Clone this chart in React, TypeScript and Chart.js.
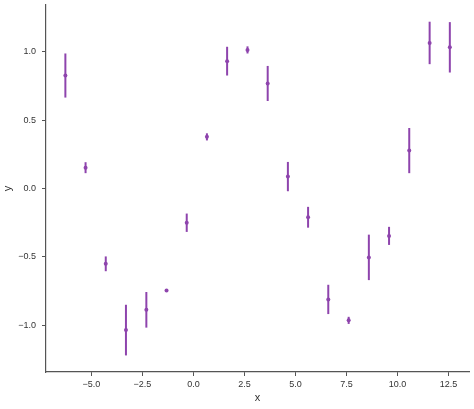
import React, { useEffect, useRef } from "react";
import { Chart, registerables } from "chart.js";

Chart.register(...registerables);

// data
const xValues = [-6.28, -5.29, -4.3, -3.31, -2.31, -1.32, -0.33, 0.66, 1.65, 2.65, 3.64, 4.63, 5.62, 6.61, 7.61, 8.6, 9.59, 10.58, 11.58, 12.57];
const yValues = [0.825, 0.152, -0.55, -1.034, -0.886, -0.744, -0.25, 0.377, 0.93, 1.012, 0.767, 0.087, -0.21, -0.81, -0.963, -0.503, -0.346, 0.277, 1.063, 1.031];
const yErrors = [0.161, 0.04, 0.054, 0.185, 0.13, 0.01, 0.067, 0.026, 0.105, 0.026, 0.128, 0.107, 0.076, 0.107, 0.026, 0.166, 0.066, 0.165, 0.155, 0.184];
const xTicks = [-5, -2.5, 0, 2.5, 5, 7.5, 10, 12.5];
const yTicks = [-1, -0.5, 0, 0.5, 1];

const purple = "#8e44ad";
const ink = "#333333";
const fontFamily = "'Liberation Sans', Arial, sans-serif";

const fmt = (v: number) => (v < 0 ? "\u2212" : "") + Math.abs(v).toFixed(1);

const errorBars = {
    id: "errorBars",
    beforeDatasetsDraw(chart: any) {
        const { ctx, scales } = chart;
        ctx.save();
        ctx.strokeStyle = purple;
        ctx.lineWidth = 2;
        xValues.forEach((x, i) => {
            const px = scales.x.getPixelForValue(x);
            const top = scales.y.getPixelForValue(yValues[i] + yErrors[i]);
            const bottom = scales.y.getPixelForValue(yValues[i] - yErrors[i]);
            ctx.beginPath();
            ctx.moveTo(px, top);
            ctx.lineTo(px, bottom);
            ctx.stroke();
        });
        ctx.restore();
    },
};

const App = () => {
    const canvasRef = useRef<HTMLCanvasElement | null>(null);

    useEffect(() => {
        const ctx = canvasRef.current?.getContext("2d");
        if (!ctx) return;

        const chart = new Chart(ctx, {
            type: "scatter",
            data: {
                datasets: [
                    {
                        data: xValues.map((x, i) => ({ x, y: yValues[i] })),
                        backgroundColor: purple,
                        borderColor: purple,
                        pointRadius: 2,
                        borderWidth: 0,
                    },
                ],
            },
            options: {
                animation: false,
                responsive: true,
                maintainAspectRatio: false,
                layout: { padding: { top: 5, right: 5, left: 0, bottom: 0 } },
                plugins: { legend: { display: false }, tooltip: { enabled: false } },
                scales: {
                    x: {
                        type: "linear",
                        min: -7.23,
                        max: 13.51,
                        afterFit: (s: any) => {
                            s.height = 37;
                            s.paddingLeft = 0;
                            s.paddingRight = 0;
                        },
                        afterBuildTicks: (s: any) => { s.ticks = xTicks.map((value) => ({ value })); },
                        grid: { drawOnChartArea: false, tickLength: 4, tickColor: "#555", tickWidth: 1 },
                        border: { color: "#555", width: 1.2 },
                        ticks: {
                            color: ink,
                            padding: 3,
                            maxRotation: 0,
                            font: { family: fontFamily, size: 9 },
                            callback: (v: any) => fmt(Number(v)),
                        },
                        title: {
                            display: true,
                            text: "x",
                            color: ink,
                            font: { family: fontFamily, size: 11 },
                            padding: { top: 0, bottom: 4.5 },
                        },
                    },
                    y: {
                        type: "linear",
                        min: -1.34,
                        max: 1.34,
                        afterFit: (s: any) => {
                            s.width = 46;
                            s.paddingTop = 0;
                            s.paddingBottom = 0;
                        },
                        afterBuildTicks: (s: any) => { s.ticks = yTicks.map((value) => ({ value })); },
                        grid: { drawOnChartArea: false, tickLength: 4, tickColor: "#555", tickWidth: 1 },
                        border: { color: "#555", width: 1.2 },
                        ticks: {
                            color: ink,
                            padding: 6,
                            font: { family: fontFamily, size: 9 },
                            callback: (v: any) => fmt(Number(v)),
                        },
                        title: {
                            display: true,
                            text: "y",
                            color: ink,
                            font: { family: fontFamily, size: 11 },
                            padding: { top: 1.5, bottom: 0 },
                        },
                    },
                },
            },
            plugins: [errorBars],
        });

        return () => {
            chart.destroy();
        };
    }, []);

    return (
        <div style={{ position: "fixed", left: 0, top: 0, width: 474, height: 409, background: "#fff" }}>
            <canvas ref={canvasRef} />
        </div>
    );
};

export default App;
